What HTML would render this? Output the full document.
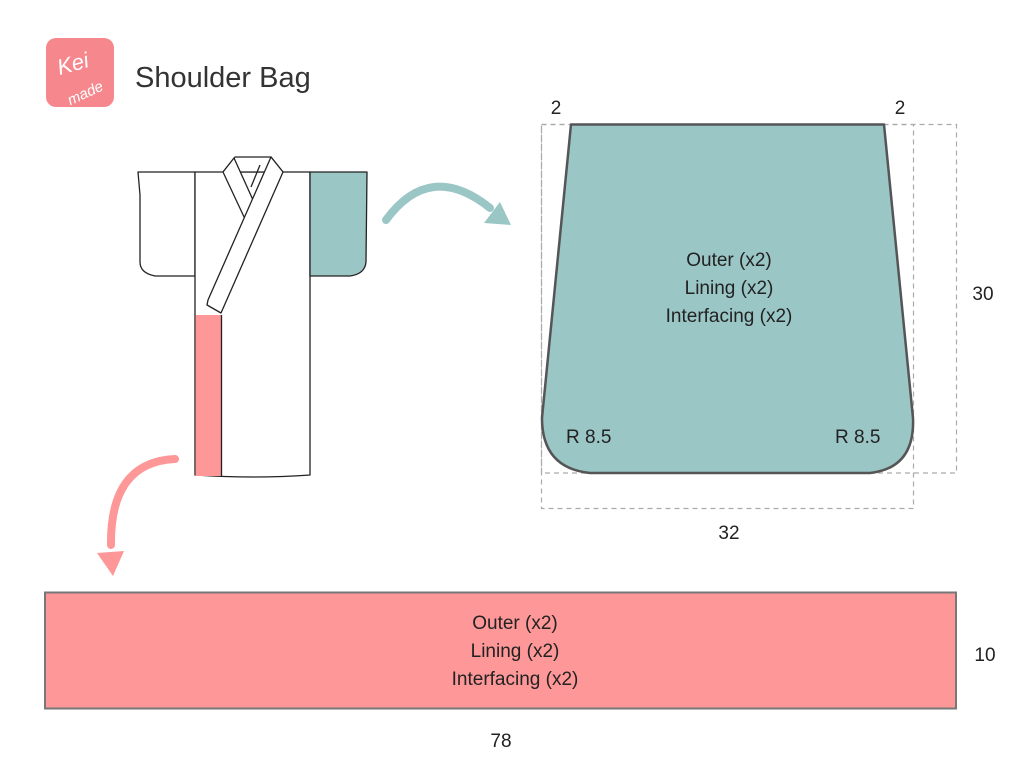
<!DOCTYPE html>
<html><head><meta charset="utf-8"><style>
html,body{margin:0;padding:0;background:#fff;}
svg{display:block}
text{font-family:"Liberation Sans",sans-serif;fill:#222;}
</style></head><body>
<svg width="1024" height="778" viewBox="0 0 1024 778" xmlns="http://www.w3.org/2000/svg">
<!-- logo -->
<rect x="46" y="38" width="68" height="69" rx="10" fill="#f5878d"/>
<text x="58" y="72" font-size="22" font-style="italic" style="fill:#fff" transform="rotate(-15 70 68)">Kei</text>
<text x="66" y="98" font-size="15" font-style="italic" style="fill:#fff" transform="rotate(-25 85 92)">made</text>
<text x="135" y="87" font-size="29" style="fill:#333">Shoulder Bag</text>

<!-- kimono -->
<g stroke="#222" stroke-width="1.3" stroke-linejoin="round">
<path d="M138,172 L195,172 L195,276 L155,276 Q140,273 140,262 L140,195 Z" fill="#fff"/>
<path d="M195,172 L310,172 L310,475 Q255,479 195,475 Z" fill="#fff"/>
<path d="M310,172 L367,172 L366,262 Q365,274 350,276 L310,276 Z" fill="#9bc6c6"/>
<rect x="195.5" y="315" width="26" height="161" fill="#fe9798" stroke="none"/>
<line x1="221.5" y1="315" x2="221.5" y2="477"/>
<path d="M223,172 L235,157 L271,157 L283,172 Z" fill="#fff"/>
<path d="M223,172 L234,158 L253,200 L245,219 Z" fill="#fff"/>
<path d="M271,157 L283,172 L221,313 L207,305 L208,300 Z" fill="#fff"/>
<line x1="260" y1="165" x2="251" y2="187"/>
</g>

<!-- arrows -->
<path d="M386,220 Q430,160 490,208" fill="none" stroke="#9bc6c6" stroke-width="8" stroke-linecap="round"/>
<polygon points="511,225 484,223 500,202" fill="#9bc6c6"/>
<path d="M175,459 Q110,462 111,545" fill="none" stroke="#fe9798" stroke-width="8" stroke-linecap="round"/>
<polygon points="113,576 97,553 124,551" fill="#fe9798"/>

<!-- bag -->
<rect x="541.5" y="124.5" width="415" height="348.5" fill="none" stroke="#aaa" stroke-width="1.2" stroke-dasharray="5,4"/>
<rect x="541.5" y="124.5" width="372" height="384" fill="none" stroke="#aaa" stroke-width="1.2" stroke-dasharray="5,4"/>
<path d="M571,124.5 L884,124.5 L913,418 Q915,468 870,473 L590,473 Q542,468 542,418 Z" fill="#9bc6c6" stroke="#555" stroke-width="2.5" stroke-linejoin="round"/>
<g font-size="19" text-anchor="middle">
<text x="729" y="266">Outer (x2)</text>
<text x="729" y="294">Lining (x2)</text>
<text x="729" y="322">Interfacing (x2)</text>
</g>
<text x="566" y="443" font-size="19">R 8.5</text>
<text x="835" y="443" font-size="19">R 8.5</text>
<text x="556" y="114" font-size="19" text-anchor="middle">2</text>
<text x="900" y="114" font-size="19" text-anchor="middle">2</text>
<text x="983" y="300" font-size="19" text-anchor="middle">30</text>
<text x="729" y="539" font-size="19" text-anchor="middle">32</text>

<!-- strip -->
<rect x="45" y="592.5" width="911" height="116" fill="#fe9798" stroke="#777" stroke-width="2"/>
<g font-size="19" text-anchor="middle">
<text x="515" y="629">Outer (x2)</text>
<text x="515" y="657">Lining (x2)</text>
<text x="515" y="685">Interfacing (x2)</text>
</g>
<text x="985" y="661" font-size="19" text-anchor="middle">10</text>
<text x="501" y="747" font-size="19" text-anchor="middle">78</text>
</svg>
</body></html>
